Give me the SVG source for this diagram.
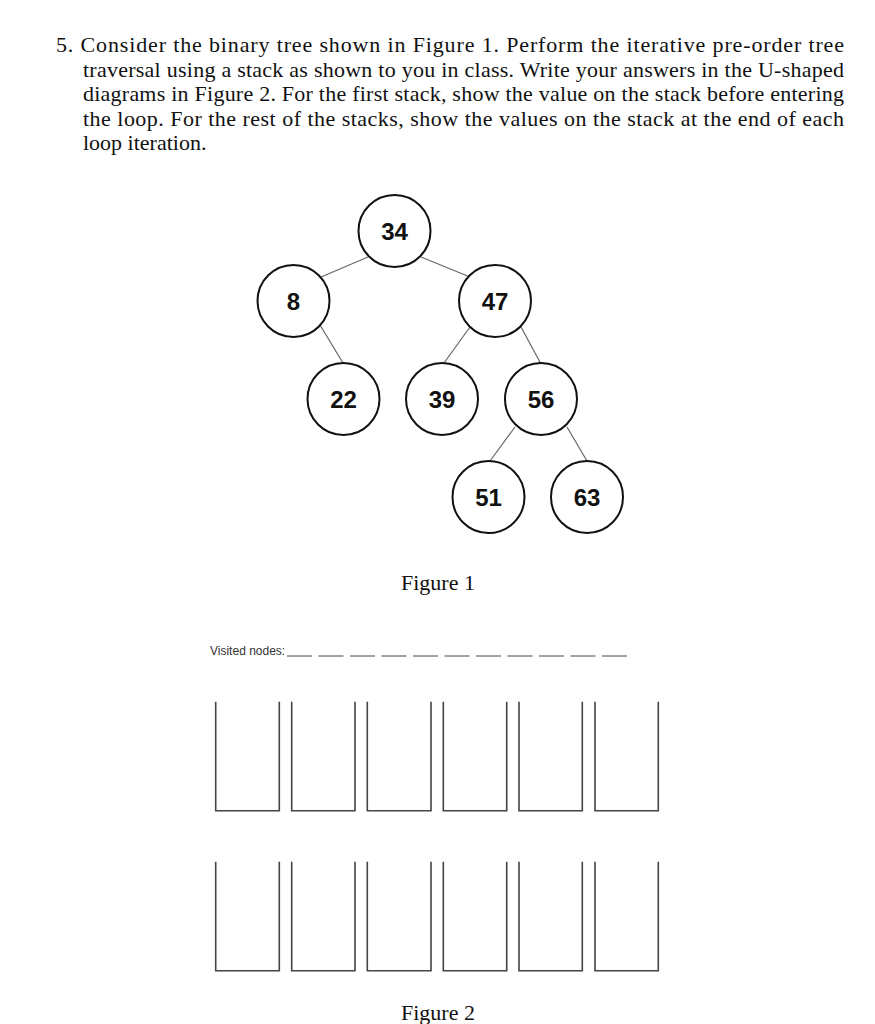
<svg xmlns="http://www.w3.org/2000/svg" width="875" height="1024" viewBox="0 0 875 1024">
<style>
  .q { font-family: "Liberation Serif", "Times New Roman", serif; font-size: 22px; fill: #111; }
  .cap { font-family: "Liberation Serif", "Times New Roman", serif; font-size: 22px; fill: #111; text-anchor: middle; }
  .node circle { fill: #fff; stroke: #111; stroke-width: 2; }
  .node text { font-family: "Liberation Sans", Arial, sans-serif; font-weight: bold; font-size: 24px; fill: #111; text-anchor: middle; }
  .edge { stroke: #666; stroke-width: 1.2; fill: none; }
  .blank { stroke: #444; stroke-width: 1; }
  .stack { fill: none; stroke: #444; stroke-width: 1.6; }
  .label { font-family: "Liberation Sans", Arial, sans-serif; font-size: 12px; fill: #333; }
</style>
<rect width="875" height="1024" fill="#fff"/>
<g id="question">
  <text class="q" x="56" y="52" textLength="788" lengthAdjust="spacing">5. Consider the binary tree shown in Figure  1.  Perform the iterative pre-order tree</text>
  <text class="q" x="83" y="76.5" textLength="761" lengthAdjust="spacing">traversal using a stack as shown to you in class. Write your answers in the U-shaped</text>
  <text class="q" x="83" y="101" textLength="761" lengthAdjust="spacing">diagrams in Figure  2. For the first stack, show the value on the stack before entering</text>
  <text class="q" x="83" y="125.5" textLength="761" lengthAdjust="spacing">the loop.  For the rest of the stacks, show the values on the stack at the end of each</text>
  <text class="q" x="83" y="150">loop iteration.</text>
</g>
<g id="connectors">
  <line class="edge" x1="368" y1="257" x2="321" y2="277"/>
  <line class="edge" x1="421" y1="257" x2="470" y2="277"/>
  <line class="edge" x1="320" y1="325" x2="343" y2="363"/>
  <line class="edge" x1="470" y1="327" x2="444" y2="363"/>
  <line class="edge" x1="521" y1="327" x2="541" y2="364"/>
  <line class="edge" x1="515" y1="427" x2="490" y2="461"/>
  <line class="edge" x1="567" y1="427" x2="587" y2="461"/>
</g>
<g id="node-34" class="node"><circle cx="394.5" cy="231" r="36"/><text x="394.5" y="239.5">34</text></g>
<g id="node-8" class="node"><circle cx="293.5" cy="301" r="36"/><text x="293.5" y="309.5">8</text></g>
<g id="node-47" class="node"><circle cx="495" cy="301" r="36"/><text x="495" y="309.5">47</text></g>
<g id="node-22" class="node"><circle cx="343.5" cy="399" r="36"/><text x="343.5" y="407.5">22</text></g>
<g id="node-39" class="node"><circle cx="442" cy="399" r="36"/><text x="442" y="407.5">39</text></g>
<g id="node-56" class="node"><circle cx="541" cy="399" r="36"/><text x="541" y="407.5">56</text></g>
<g id="node-51" class="node"><circle cx="488.5" cy="497" r="36"/><text x="488.5" y="505.5">51</text></g>
<g id="node-63" class="node"><circle cx="587" cy="497" r="36"/><text x="587" y="505.5">63</text></g>
<text class="cap" x="438" y="590">Figure 1</text>
<g id="visited">
  <text class="label" x="210" y="655">Visited nodes:</text>
  <line class="blank" x1="287" y1="656" x2="312" y2="656"/>
  <line class="blank" x1="318.5" y1="656" x2="343.5" y2="656"/>
  <line class="blank" x1="350" y1="656" x2="375" y2="656"/>
  <line class="blank" x1="381.5" y1="656" x2="406.5" y2="656"/>
  <line class="blank" x1="413" y1="656" x2="438" y2="656"/>
  <line class="blank" x1="444.5" y1="656" x2="469.5" y2="656"/>
  <line class="blank" x1="476" y1="656" x2="501" y2="656"/>
  <line class="blank" x1="507.5" y1="656" x2="532.5" y2="656"/>
  <line class="blank" x1="539" y1="656" x2="564" y2="656"/>
  <line class="blank" x1="570.5" y1="656" x2="595.5" y2="656"/>
  <line class="blank" x1="602" y1="656" x2="627" y2="656"/>
</g>
<g id="stacks-row1">
  <path class="stack" d="M215.7 701.7 V810.7 H279.3 V701.7"/>
  <path class="stack" d="M291.7 701.7 V810.7 H355 V701.7"/>
  <path class="stack" d="M367.3 701.7 V810.7 H431 V701.7"/>
  <path class="stack" d="M443.3 701.7 V810.7 H506.7 V701.7"/>
  <path class="stack" d="M519 701.7 V810.7 H582.3 V701.7"/>
  <path class="stack" d="M595 701.7 V810.7 H658.3 V701.7"/>
</g>
<g id="stacks-row2">
  <path class="stack" d="M215.7 861.7 V970.7 H279.3 V861.7"/>
  <path class="stack" d="M291.7 861.7 V970.7 H355 V861.7"/>
  <path class="stack" d="M367.3 861.7 V970.7 H431 V861.7"/>
  <path class="stack" d="M443.3 861.7 V970.7 H506.7 V861.7"/>
  <path class="stack" d="M519 861.7 V970.7 H582.3 V861.7"/>
  <path class="stack" d="M595 861.7 V970.7 H658.3 V861.7"/>
</g>
<text class="cap" x="438" y="1020">Figure 2</text>
</svg>
